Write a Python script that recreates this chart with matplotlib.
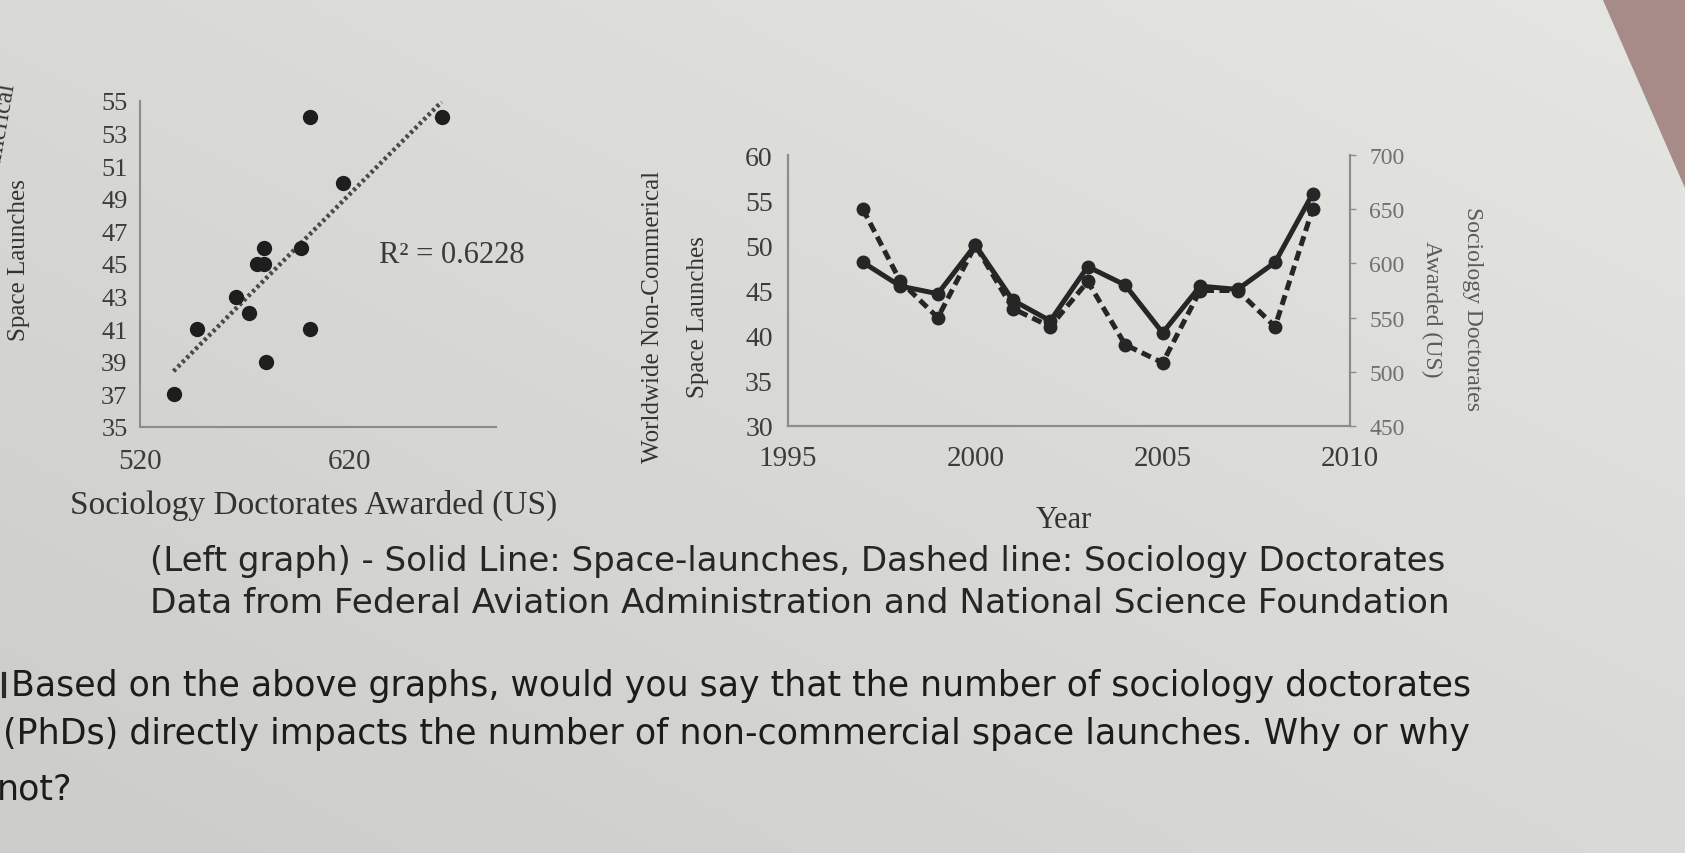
import numpy as np
import matplotlib.pyplot as plt
from matplotlib.patches import Polygon
from matplotlib.lines import Line2D

# data (1997-2009)
years = [1997, 1998, 1999, 2000, 2001, 2002, 2003, 2004, 2005, 2006, 2007, 2008, 2009]
launches = [54, 46, 42, 50, 43, 41, 46, 39, 37, 45, 45, 41, 54]
doctorates = [601, 579, 572, 617, 566, 547, 597, 580, 536, 579, 576, 601, 664]

scatter_yticks = list(range(35, 56, 2))
scatter_xticks = [520, 620]
line_xticks = [1995, 2000, 2005, 2010]
left_yticks = [30, 35, 40, 45, 50, 55, 60]
right_yticks = [450, 500, 550, 600, 650, 700]
r2_label = 'R² = 0.6228'

caption = ['(Left graph) - Solid Line: Space-launches, Dashed line: Sociology Doctorates',
           'Data from Federal Aviation Administration and National Science Foundation']
question = ['Based on the above graphs, would you say that the number of sociology doctorates',
            '(PhDs) directly impacts the number of non-commercial space launches. Why or why',
            'not?']

plt.rcParams['font.family'] = ['Liberation Serif', 'DejaVu Serif']

W, H = 1685, 854
fig = plt.figure(figsize=(W / 100, H / 100), dpi=100)


def box(l, t, r, b):
    return [l / W, 1 - b / H, (r - l) / W, (b - t) / H]


def fx(x):
    return x / W


def fy(y):
    return 1 - y / H


# paper background, a bit brighter towards the top right
bg = fig.add_axes([0, 0, 1, 1], zorder=-10)
gx, gy = np.meshgrid(np.linspace(0, 1, 300), np.linspace(0, 1, 150))
shade = 0.80 + 0.05 * gx + 0.05 * (1 - gy)
img = np.dstack([shade, shade, shade * 0.985])
bg.imshow(img, extent=[0, 1, 0, 1], aspect='auto', origin='upper')
bg.add_patch(Polygon([[fx(1603), fy(0)], [fx(1685), fy(0)], [fx(1685), fy(188)]],
                     closed=True, color='#a68b89'))
bg.set_xlim(0, 1)
bg.set_ylim(0, 1)
bg.axis('off')

ink = '#1e1e1e'
axis_gray = '#8c8c8c'

# ---- left: scatter with trendline
ax1 = fig.add_axes(box(140, 102, 496, 428))
ax1.patch.set_alpha(0)
ax1.scatter(doctorates, launches, s=100, color=ink, zorder=3)
coef = np.polyfit(doctorates, launches, 1)
xs = np.array([min(doctorates), max(doctorates)])
ax1.plot(xs, np.polyval(coef, xs), linestyle=(0, (0.7, 0.7)), color='#4a4a4a', lw=3.2, zorder=2)
ax1.text(634, 45.6, r2_label, fontsize=22, color='#3a3a3a', va='center')
ax1.set_xlim(520, 690)
ax1.set_ylim(35, 55)
ax1.set_xticks(scatter_xticks)
ax1.set_yticks(scatter_yticks)
ax1.tick_params(length=0, labelcolor='#3c3c3c')
ax1.tick_params(axis='y', pad=9, labelsize=19)
ax1.tick_params(axis='x', pad=15, labelsize=21)
for s in ['top', 'right']:
    ax1.spines[s].set_visible(False)
for s in ['left', 'bottom']:
    ax1.spines[s].set_color(axis_gray)
    ax1.spines[s].set_linewidth(1.5)

fig.text(fx(314), fy(505), 'Sociology Doctorates Awarded (US)', fontsize=24,
         color='#333333', ha='center', va='center')
fig.text(fx(19), fy(260), 'Space Launches', fontsize=18, color='#333333',
         rotation=90, ha='center', va='center')
# first line of the label runs off the left edge of the page
fig.text(fx(9), fy(84), 'Worldwide Non-Commerical', fontsize=18, color='#333333',
         rotation=80, rotation_mode='anchor', ha='right', va='center')

# ---- right: two series over time
ax2 = fig.add_axes(box(788, 156, 1350, 427))
ax2.patch.set_alpha(0)
ax2.plot(years, launches, linestyle=(0, (2.0, 1.1)), lw=3.6, color='#262626',
         marker='o', ms=9, zorder=3)
ax2.set_xlim(1995, 2010)
ax2.set_ylim(30, 60)
ax2.set_xticks(line_xticks)
ax2.set_yticks(left_yticks)
ax2.tick_params(length=0, labelcolor='#3c3c3c')
ax2.tick_params(axis='y', pad=11, labelsize=20)
ax2.tick_params(axis='x', pad=14, labelsize=21)

ax3 = ax2.twinx()
ax3.plot(years, doctorates, linestyle='-', lw=3.6, color='#262626',
         marker='o', ms=9, zorder=3)
ax3.set_ylim(450, 700)
ax3.set_yticks(right_yticks)
ax3.tick_params(axis='y', direction='out', length=4, width=1, color=axis_gray,
                labelsize=17, labelcolor='#707070', pad=10)

for a in [ax2, ax3]:
    a.spines['top'].set_visible(False)
    for s in ['left', 'right', 'bottom']:
        a.spines[s].set_color(axis_gray)
        a.spines[s].set_linewidth(1.5)

fig.text(fx(653), fy(317), 'Worldwide Non-Commerical', fontsize=18, color='#333333',
         rotation=90, ha='center', va='center')
fig.text(fx(698), fy(317), 'Space Launches', fontsize=18, color='#333333',
         rotation=90, ha='center', va='center')
fig.text(fx(1472), fy(309), 'Sociology Doctorates', fontsize=17, color='#5a5a5a',
         rotation=270, ha='center', va='center')
fig.text(fx(1432), fy(309), 'Awarded (US)', fontsize=17, color='#5a5a5a',
         rotation=270, ha='center', va='center')
fig.text(fx(1064), fy(520), 'Year', fontsize=22, color='#333333', ha='center', va='center')

# ---- caption and question text, sized to the line widths on the page
renderer = fig.canvas.get_renderer()


def fitted_text(x, y, s, width_px, size, **kw):
    t = fig.text(fx(x), fy(y), s, fontsize=size, family='DejaVu Sans', va='center', **kw)
    w = t.get_window_extent(renderer=renderer).width
    t.set_fontsize(size * width_px / w)
    return t


fitted_text(150, 562, caption[0], 1295, 22, color='#262626')
fitted_text(150, 604, caption[1], 1299, 22, color='#262626')
q1 = fitted_text(11, 686, question[0], 1459, 26, color='#1c1c1c')
q2 = fitted_text(3, 734, question[1], 1467, 26, color='#1c1c1c')
fig.text(fx(-3), fy(790), question[2], fontsize=q2.get_fontsize(), family='DejaVu Sans',
         color='#1c1c1c', va='center')
fig.add_artist(Line2D([fx(4), fx(4)], [fy(675), fy(697)], color='#2a2a2a', lw=3))

fig.savefig('out.png', dpi=100)
